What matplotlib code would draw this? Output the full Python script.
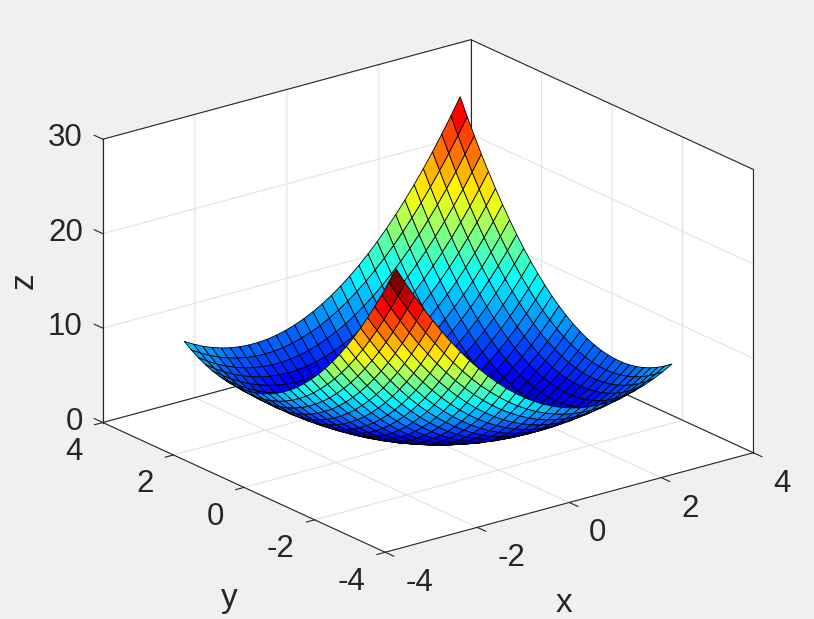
import numpy as np
import matplotlib
matplotlib.use('Agg')
import matplotlib.pyplot as plt
from matplotlib.colors import LinearSegmentedColormap
from mpl_toolkits.mplot3d import proj3d

x_vals = [-3.0, -2.8, -2.6, -2.4, -2.2, -2.0, -1.8, -1.6, -1.4, -1.2, -1.0, -0.8, -0.6, -0.4, -0.2, 0.0,
          0.2, 0.4, 0.6, 0.8, 1.0, 1.2, 1.4, 1.6, 1.8, 2.0, 2.2, 2.4, 2.6, 2.8, 3.0]
y_vals = [-3.0, -2.8, -2.6, -2.4, -2.2, -2.0, -1.8, -1.6, -1.4, -1.2, -1.0, -0.8, -0.6, -0.4, -0.2, 0.0,
          0.2, 0.4, 0.6, 0.8, 1.0, 1.2, 1.4, 1.6, 1.8, 2.0, 2.2, 2.4, 2.6, 2.8, 3.0]
z_vals = [
    [27, 25.24, 23.56, 21.96, 20.44, 19, 17.64, 16.36, 15.16, 14.04, 13, 12.04, 11.16, 10.36, 9.64, 9, 8.44, 7.96, 7.56, 7.24, 7, 6.84, 6.76, 6.76, 6.84, 7, 7.24, 7.56, 7.96, 8.44, 9],
    [25.24, 23.52, 21.88, 20.32, 18.84, 17.44, 16.12, 14.88, 13.72, 12.64, 11.64, 10.72, 9.88, 9.12, 8.44, 7.84, 7.32, 6.88, 6.52, 6.24, 6.04, 5.92, 5.88, 5.92, 6.04, 6.24, 6.52, 6.88, 7.32, 7.84, 8.44],
    [23.56, 21.88, 20.28, 18.76, 17.32, 15.96, 14.68, 13.48, 12.36, 11.32, 10.36, 9.48, 8.68, 7.96, 7.32, 6.76, 6.28, 5.88, 5.56, 5.32, 5.16, 5.08, 5.08, 5.16, 5.32, 5.56, 5.88, 6.28, 6.76, 7.32, 7.96],
    [21.96, 20.32, 18.76, 17.28, 15.88, 14.56, 13.32, 12.16, 11.08, 10.08, 9.16, 8.32, 7.56, 6.88, 6.28, 5.76, 5.32, 4.96, 4.68, 4.48, 4.36, 4.32, 4.36, 4.48, 4.68, 4.96, 5.32, 5.76, 6.28, 6.88, 7.56],
    [20.44, 18.84, 17.32, 15.88, 14.52, 13.24, 12.04, 10.92, 9.88, 8.92, 8.04, 7.24, 6.52, 5.88, 5.32, 4.84, 4.44, 4.12, 3.88, 3.72, 3.64, 3.64, 3.72, 3.88, 4.12, 4.44, 4.84, 5.32, 5.88, 6.52, 7.24],
    [19, 17.44, 15.96, 14.56, 13.24, 12, 10.84, 9.76, 8.76, 7.84, 7, 6.24, 5.56, 4.96, 4.44, 4, 3.64, 3.36, 3.16, 3.04, 3, 3.04, 3.16, 3.36, 3.64, 4, 4.44, 4.96, 5.56, 6.24, 7],
    [17.64, 16.12, 14.68, 13.32, 12.04, 10.84, 9.72, 8.68, 7.72, 6.84, 6.04, 5.32, 4.68, 4.12, 3.64, 3.24, 2.92, 2.68, 2.52, 2.44, 2.44, 2.52, 2.68, 2.92, 3.24, 3.64, 4.12, 4.68, 5.32, 6.04, 6.84],
    [16.36, 14.88, 13.48, 12.16, 10.92, 9.76, 8.68, 7.68, 6.76, 5.92, 5.16, 4.48, 3.88, 3.36, 2.92, 2.56, 2.28, 2.08, 1.96, 1.92, 1.96, 2.08, 2.28, 2.56, 2.92, 3.36, 3.88, 4.48, 5.16, 5.92, 6.76],
    [15.16, 13.72, 12.36, 11.08, 9.88, 8.76, 7.72, 6.76, 5.88, 5.08, 4.36, 3.72, 3.16, 2.68, 2.28, 1.96, 1.72, 1.56, 1.48, 1.48, 1.56, 1.72, 1.96, 2.28, 2.68, 3.16, 3.72, 4.36, 5.08, 5.88, 6.76],
    [14.04, 12.64, 11.32, 10.08, 8.92, 7.84, 6.84, 5.92, 5.08, 4.32, 3.64, 3.04, 2.52, 2.08, 1.72, 1.44, 1.24, 1.12, 1.08, 1.12, 1.24, 1.44, 1.72, 2.08, 2.52, 3.04, 3.64, 4.32, 5.08, 5.92, 6.84],
    [13, 11.64, 10.36, 9.16, 8.04, 7, 6.04, 5.16, 4.36, 3.64, 3, 2.44, 1.96, 1.56, 1.24, 1, 0.84, 0.76, 0.76, 0.84, 1, 1.24, 1.56, 1.96, 2.44, 3, 3.64, 4.36, 5.16, 6.04, 7],
    [12.04, 10.72, 9.48, 8.32, 7.24, 6.24, 5.32, 4.48, 3.72, 3.04, 2.44, 1.92, 1.48, 1.12, 0.84, 0.64, 0.52, 0.48, 0.52, 0.64, 0.84, 1.12, 1.48, 1.92, 2.44, 3.04, 3.72, 4.48, 5.32, 6.24, 7.24],
    [11.16, 9.88, 8.68, 7.56, 6.52, 5.56, 4.68, 3.88, 3.16, 2.52, 1.96, 1.48, 1.08, 0.76, 0.52, 0.36, 0.28, 0.28, 0.36, 0.52, 0.76, 1.08, 1.48, 1.96, 2.52, 3.16, 3.88, 4.68, 5.56, 6.52, 7.56],
    [10.36, 9.12, 7.96, 6.88, 5.88, 4.96, 4.12, 3.36, 2.68, 2.08, 1.56, 1.12, 0.76, 0.48, 0.28, 0.16, 0.12, 0.16, 0.28, 0.48, 0.76, 1.12, 1.56, 2.08, 2.68, 3.36, 4.12, 4.96, 5.88, 6.88, 7.96],
    [9.64, 8.44, 7.32, 6.28, 5.32, 4.44, 3.64, 2.92, 2.28, 1.72, 1.24, 0.84, 0.52, 0.28, 0.12, 0.04, 0.04, 0.12, 0.28, 0.52, 0.84, 1.24, 1.72, 2.28, 2.92, 3.64, 4.44, 5.32, 6.28, 7.32, 8.44],
    [9, 7.84, 6.76, 5.76, 4.84, 4, 3.24, 2.56, 1.96, 1.44, 1, 0.64, 0.36, 0.16, 0.04, 0, 0.04, 0.16, 0.36, 0.64, 1, 1.44, 1.96, 2.56, 3.24, 4, 4.84, 5.76, 6.76, 7.84, 9],
    [8.44, 7.32, 6.28, 5.32, 4.44, 3.64, 2.92, 2.28, 1.72, 1.24, 0.84, 0.52, 0.28, 0.12, 0.04, 0.04, 0.12, 0.28, 0.52, 0.84, 1.24, 1.72, 2.28, 2.92, 3.64, 4.44, 5.32, 6.28, 7.32, 8.44, 9.64],
    [7.96, 6.88, 5.88, 4.96, 4.12, 3.36, 2.68, 2.08, 1.56, 1.12, 0.76, 0.48, 0.28, 0.16, 0.12, 0.16, 0.28, 0.48, 0.76, 1.12, 1.56, 2.08, 2.68, 3.36, 4.12, 4.96, 5.88, 6.88, 7.96, 9.12, 10.36],
    [7.56, 6.52, 5.56, 4.68, 3.88, 3.16, 2.52, 1.96, 1.48, 1.08, 0.76, 0.52, 0.36, 0.28, 0.28, 0.36, 0.52, 0.76, 1.08, 1.48, 1.96, 2.52, 3.16, 3.88, 4.68, 5.56, 6.52, 7.56, 8.68, 9.88, 11.16],
    [7.24, 6.24, 5.32, 4.48, 3.72, 3.04, 2.44, 1.92, 1.48, 1.12, 0.84, 0.64, 0.52, 0.48, 0.52, 0.64, 0.84, 1.12, 1.48, 1.92, 2.44, 3.04, 3.72, 4.48, 5.32, 6.24, 7.24, 8.32, 9.48, 10.72, 12.04],
    [7, 6.04, 5.16, 4.36, 3.64, 3, 2.44, 1.96, 1.56, 1.24, 1, 0.84, 0.76, 0.76, 0.84, 1, 1.24, 1.56, 1.96, 2.44, 3, 3.64, 4.36, 5.16, 6.04, 7, 8.04, 9.16, 10.36, 11.64, 13],
    [6.84, 5.92, 5.08, 4.32, 3.64, 3.04, 2.52, 2.08, 1.72, 1.44, 1.24, 1.12, 1.08, 1.12, 1.24, 1.44, 1.72, 2.08, 2.52, 3.04, 3.64, 4.32, 5.08, 5.92, 6.84, 7.84, 8.92, 10.08, 11.32, 12.64, 14.04],
    [6.76, 5.88, 5.08, 4.36, 3.72, 3.16, 2.68, 2.28, 1.96, 1.72, 1.56, 1.48, 1.48, 1.56, 1.72, 1.96, 2.28, 2.68, 3.16, 3.72, 4.36, 5.08, 5.88, 6.76, 7.72, 8.76, 9.88, 11.08, 12.36, 13.72, 15.16],
    [6.76, 5.92, 5.16, 4.48, 3.88, 3.36, 2.92, 2.56, 2.28, 2.08, 1.96, 1.92, 1.96, 2.08, 2.28, 2.56, 2.92, 3.36, 3.88, 4.48, 5.16, 5.92, 6.76, 7.68, 8.68, 9.76, 10.92, 12.16, 13.48, 14.88, 16.36],
    [6.84, 6.04, 5.32, 4.68, 4.12, 3.64, 3.24, 2.92, 2.68, 2.52, 2.44, 2.44, 2.52, 2.68, 2.92, 3.24, 3.64, 4.12, 4.68, 5.32, 6.04, 6.84, 7.72, 8.68, 9.72, 10.84, 12.04, 13.32, 14.68, 16.12, 17.64],
    [7, 6.24, 5.56, 4.96, 4.44, 4, 3.64, 3.36, 3.16, 3.04, 3, 3.04, 3.16, 3.36, 3.64, 4, 4.44, 4.96, 5.56, 6.24, 7, 7.84, 8.76, 9.76, 10.84, 12, 13.24, 14.56, 15.96, 17.44, 19],
    [7.24, 6.52, 5.88, 5.32, 4.84, 4.44, 4.12, 3.88, 3.72, 3.64, 3.64, 3.72, 3.88, 4.12, 4.44, 4.84, 5.32, 5.88, 6.52, 7.24, 8.04, 8.92, 9.88, 10.92, 12.04, 13.24, 14.52, 15.88, 17.32, 18.84, 20.44],
    [7.56, 6.88, 6.28, 5.76, 5.32, 4.96, 4.68, 4.48, 4.36, 4.32, 4.36, 4.48, 4.68, 4.96, 5.32, 5.76, 6.28, 6.88, 7.56, 8.32, 9.16, 10.08, 11.08, 12.16, 13.32, 14.56, 15.88, 17.28, 18.76, 20.32, 21.96],
    [7.96, 7.32, 6.76, 6.28, 5.88, 5.56, 5.32, 5.16, 5.08, 5.08, 5.16, 5.32, 5.56, 5.88, 6.28, 6.76, 7.32, 7.96, 8.68, 9.48, 10.36, 11.32, 12.36, 13.48, 14.68, 15.96, 17.32, 18.76, 20.28, 21.88, 23.56],
    [8.44, 7.84, 7.32, 6.88, 6.52, 6.24, 6.04, 5.92, 5.88, 5.92, 6.04, 6.24, 6.52, 6.88, 7.32, 7.84, 8.44, 9.12, 9.88, 10.72, 11.64, 12.64, 13.72, 14.88, 16.12, 17.44, 18.84, 20.32, 21.88, 23.52, 25.24],
    [9, 8.44, 7.96, 7.56, 7.24, 7, 6.84, 6.76, 6.76, 6.84, 7, 7.24, 7.56, 7.96, 8.44, 9, 9.64, 10.36, 11.16, 12.04, 13, 14.04, 15.16, 16.36, 17.64, 19, 20.44, 21.96, 23.56, 25.24, 27],
]
xy_ticks = [-4, -2, 0, 2, 4]
z_ticks = [0, 10, 20, 30]

plt.rcParams['font.family'] = ['Liberation Sans', 'DejaVu Sans']

dark = '#262626'
bg = '#f0f0f0'
tick_size = 22.5
label_size = 24

fig = plt.figure(figsize=(8.14, 6.19), dpi=100, facecolor=bg)
ax = fig.add_subplot(projection='3d', proj_type='ortho', facecolor=bg, computed_zorder=False)
ax.view_init(elev=30, azim=-127.5)
ax.set_box_aspect((1, 1, 1))
# stretch to fill like matlab does, no equal aspect
ax.apply_aspect = lambda position=None: None
ax.set_position([27.5 / 814, 40.6 / 619, 780 / 814, 550 / 619])

X, Y = np.meshgrid(x_vals, y_vals)
Z = np.array(z_vals)
# matlab jet, its anchors sit a bit differently from the matplotlib one
cmap = LinearSegmentedColormap.from_list('mjet', [
    (0, (0, 0, 0.5625)), (1 / 8, (0, 0, 1)), (3 / 8, (0, 1, 1)),
    (5 / 8, (1, 1, 0)), (7 / 8, (1, 0, 0)), (1, (0.5, 0, 0))], N=64)
colors = cmap(Z / Z.max())
surf = ax.plot_surface(X, Y, Z, rstride=1, cstride=1, facecolors=colors, shade=False, zorder=5)
surf.set_edgecolor('black')
surf.set_linewidth(0.6)

lo, hi = xy_ticks[0], xy_ticks[-1]
zmin, zmax = z_ticks[0], z_ticks[-1]

# box lines behind the surface, the grid would paint over the pane edges
box_edges = [
    ([hi, hi], [lo, hi], [zmax, zmax]),
    ([lo, hi], [hi, hi], [zmax, zmax]),
    ([hi, hi], [hi, hi], [zmin, zmax]),
    ([hi, hi], [lo, lo], [zmin, zmax]),
    ([lo, lo], [hi, hi], [zmin, zmax]),
    ([hi, hi], [lo, hi], [zmin, zmin]),
    ([lo, hi], [hi, hi], [zmin, zmin]),
]
for ex, ey, ez in box_edges:
    ax.plot(ex, ey, ez, color=dark, linewidth=0.8, zorder=3)

ax.set_xlim(lo, hi, view_margin=0)
ax.set_ylim(lo, hi, view_margin=0)
ax.set_zlim(zmin, zmax, view_margin=0)
ax.set_xticks(xy_ticks)
ax.set_yticks(xy_ticks)
ax.set_zticks(z_ticks)
ax.set_xticklabels([])
ax.set_yticklabels([])
ax.set_zticklabels([])
ax.zaxis.set_ticks_position('upper')
# z ticks point along y in the reference, not along x
ax.zaxis._get_tickdir = lambda pos: 1

for axis, tick_in, tick_out in ((ax.xaxis, 0.38, 0.0), (ax.yaxis, 0.28, 0.0), (ax.zaxis, 0.0, 0.38)):
    axis.set_pane_color('white')
    axis.pane.set_edgecolor('white')
    axis.line.set_color(dark)
    axis.line.set_linewidth(0.8)
    axis._axinfo['grid'].update(color='#e2e2e2', linewidth=0.8)
    axis._axinfo['tick'].update(inward_factor=tick_in, outward_factor=tick_out)
    axis.set_tick_params(color=dark)


def put_text(txt, px, py, pz, dx, dy, **kw):
    # 3d point -> 2d view coords, text offset from it in pixels
    vx, vy, _ = proj3d.proj_transform(px, py, pz, ax.get_proj())
    ax.annotate(txt, xy=(vx, vy), xycoords='data', xytext=(dx, dy), textcoords='offset pixels',
                color=dark, annotation_clip=False, **kw)


for t in xy_ticks:
    put_text(str(t), t, lo, zmin, 20, -31, ha='left', va='center', fontsize=tick_size)
    put_text(str(t), lo, t, zmin, -20, -29.5, ha='right', va='center', fontsize=tick_size)
for t in z_ticks:
    put_text(str(t), lo, hi, t, -20, 1, ha='right', va='center', fontsize=tick_size)

put_text('x', 0, lo, zmin, -5, -101, ha='center', va='center', fontsize=label_size)
put_text('y', lo, 0, zmin, -15, -111, ha='center', va='center', fontsize=label_size)
put_text('z', lo, hi, 15, -79, 0, ha='center', va='center', rotation=90, fontsize=label_size)

fig.savefig('out.png', dpi=100, facecolor=bg)
